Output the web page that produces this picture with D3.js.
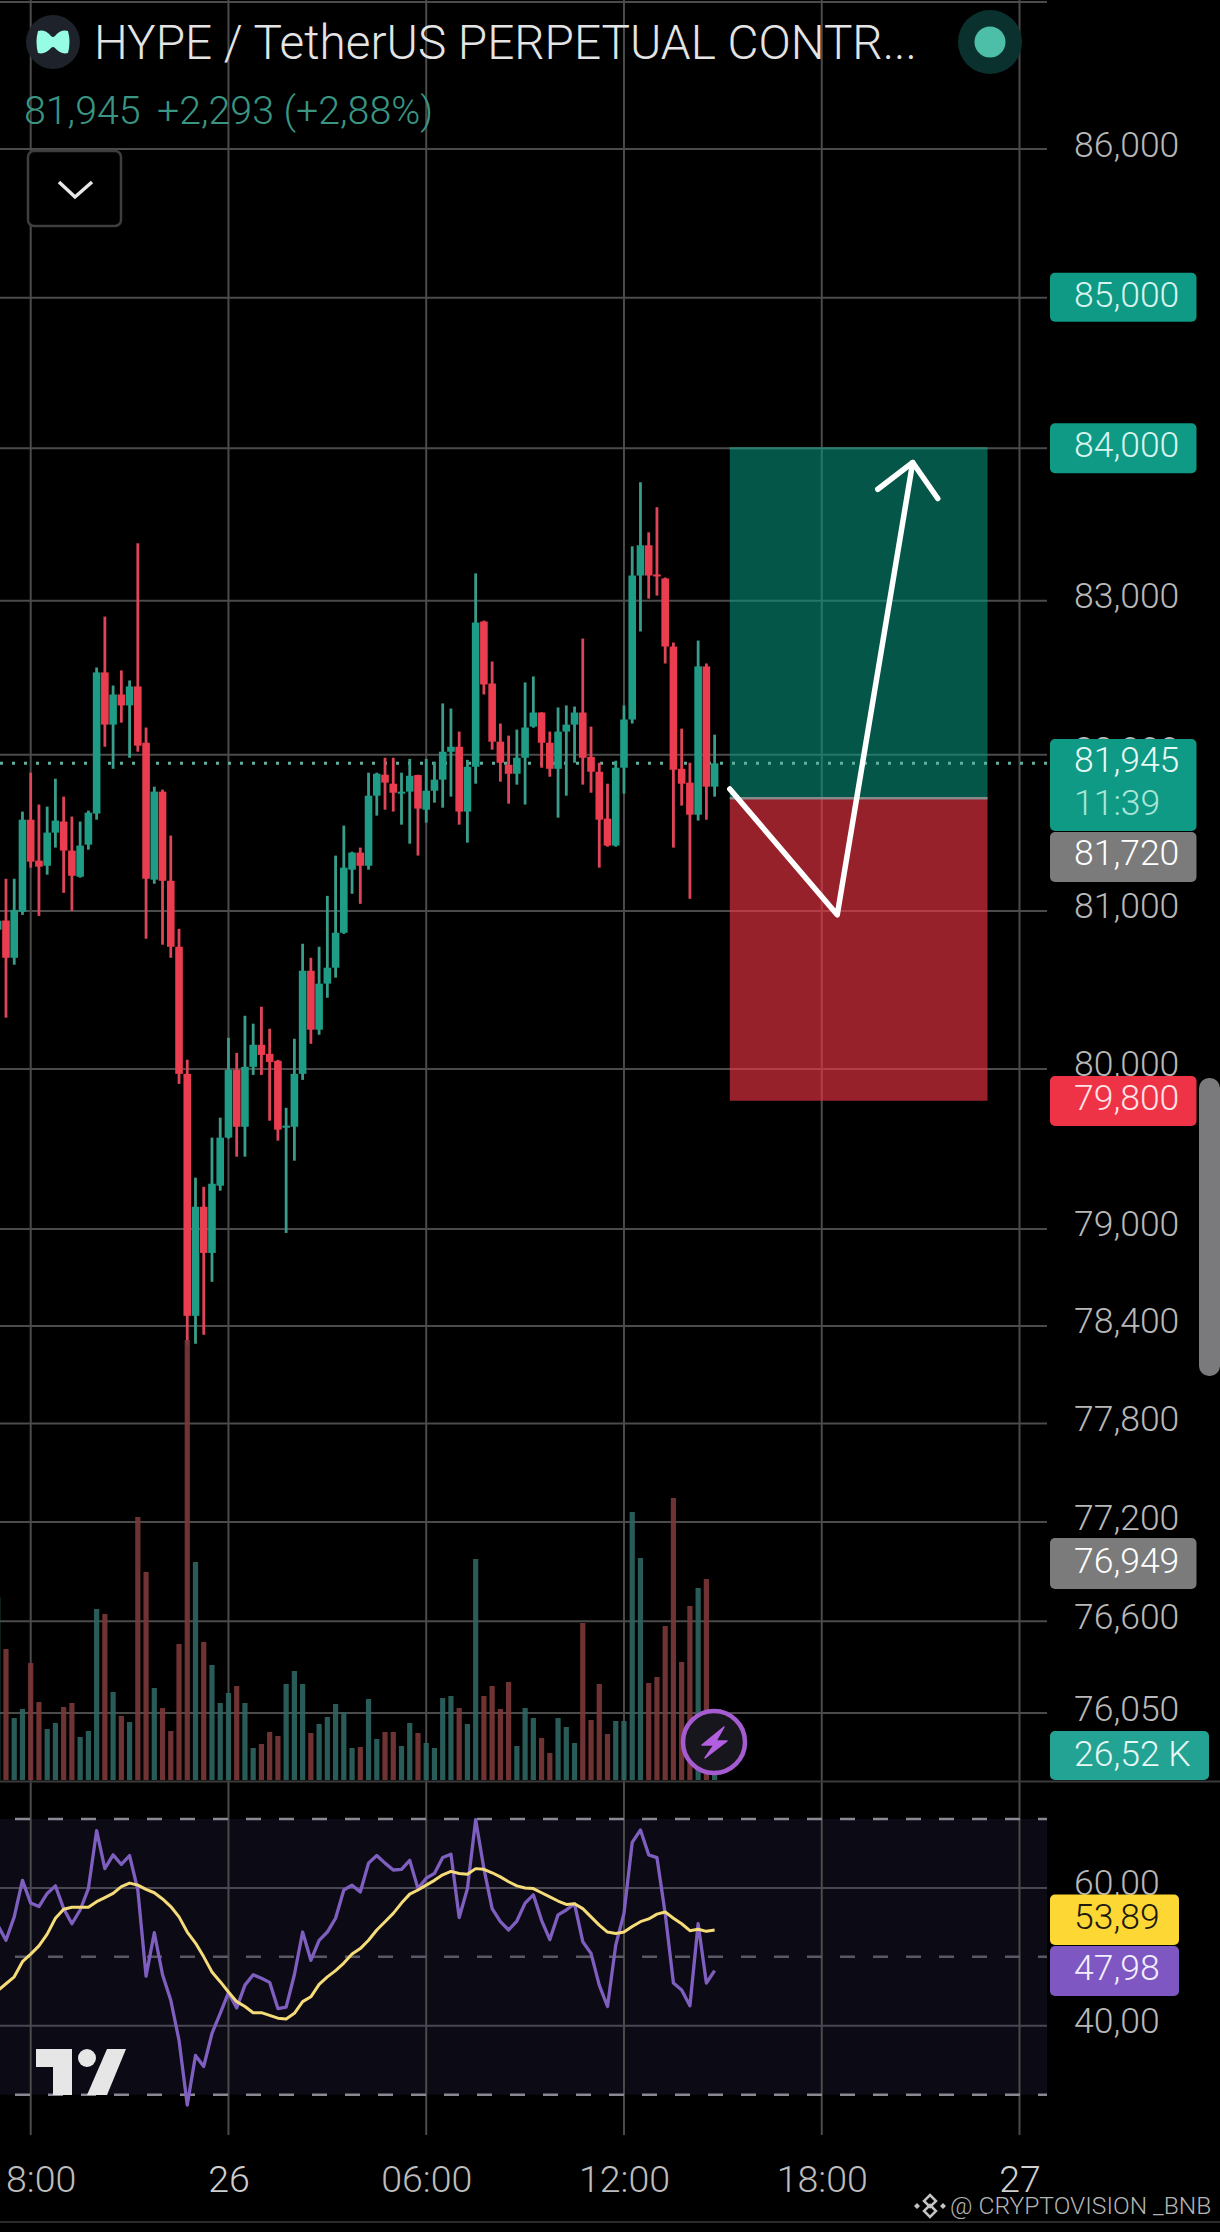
<!DOCTYPE html>
<html><head><meta charset="utf-8">
<script src="https://cdn.jsdelivr.net/npm/d3@7/dist/d3.min.js"></script>
<style>html,body{margin:0;padding:0;background:#000}svg{display:block}text{font-family:Roboto,sans-serif;font-weight:300}</style>
</head><body><svg id="c" width="1220" height="2232"></svg>
<script>
// 15-minute candles, first one at hour -7 relative to the 26th 00:00
const firstHour = -7, candleHours = 0.25;
const opens = [80880,80939,80702,80994,81583,81321,81288,81500,81571,81385,81218,81423,81622,82533,82195,82390,82319,82442,82078,81199,81763,81192,80772,79969,78462,79138,78851,79269,79569,79994,79637,80013,80152,80095,80051,79631,79637,79969,80620,80247,80538,80639,80861,81263,81372,81288,81737,81872,81814,81750,81763,81870,81647,81769,81840,82020,82052,81635,81923,82864,82461,82085,81936,81878,81981,82182,82273,82078,81910,82150,82195,82273,81987,81891,81590,81417,81917,82228,83164,83362,83171,83145,82701,81910,81821,81615,82572,81795];
const closes = [80937,80702,81006,81583,81314,81282,81500,81577,81385,81224,81417,81628,82533,82195,82390,82319,82442,82059,81205,81763,81192,80772,79969,78462,79138,78851,79281,79569,79994,79637,80013,80152,80088,80044,79619,79644,79969,80620,80247,80538,80639,80861,81276,81372,81288,81737,81878,81821,81756,81763,81865,81654,81769,81840,82020,82052,81635,81923,82857,82455,82085,81949,81878,81981,82176,82273,82078,81910,82150,82195,82273,81981,81891,81583,81417,81917,82228,83164,83362,83164,83158,82701,81904,81814,81615,82572,81795,81945];
const highs = [80975,81205,81205,81635,81885,81680,81667,81846,81731,81603,81571,81641,82565,82896,82448,82546,82481,83375,82176,81795,81776,81481,80886,80057,79319,79262,79569,79694,80196,80101,80335,80285,80392,80253,80057,79756,80190,80791,80702,80772,81096,81353,81545,81378,81404,81885,81885,81981,81981,81885,81974,81872,81974,81955,82332,82299,82150,81968,83178,82870,82604,82202,82124,82163,82468,82507,82275,82150,82306,82319,82312,82753,82182,81949,81814,81962,82319,83355,83776,83447,83612,83151,82727,82169,81949,82740,82591,82130];
const lows = [80848,80323,80658,80975,81276,80968,81231,81404,81115,81000,81212,81391,81583,82052,81910,82208,81981,82020,80823,81173,80785,80702,79906,78284,78290,78345,78672,79238,79563,79450,79450,79962,79962,79675,79550,78975,79425,79931,80158,80215,80449,80576,80854,81109,81045,81263,81609,81647,81635,81551,81429,81353,81564,81692,81660,81731,81551,81436,81814,82390,82033,81827,81686,81808,81680,82175,81917,81859,81596,81737,81949,81808,81756,81276,81410,81410,81750,82202,82799,83013,83033,82591,81404,81673,81077,81577,81583,81731];
const volumes = [183,131,62,71,117,78,51,57,73,77,43,49,171,166,88,64,58,263,208,92,72,49,136,440,218,138,115,77,87,94,77,32,36,48,44,96,109,96,47,56,63,76,68,32,33,81,41,48,48,34,57,47,37,32,82,84,72,56,221,84,94,71,98,34,72,62,42,27,62,53,37,157,60,96,46,59,59,268,222,97,103,154,282,118,174,192,201,26.52];
const rsi = [54.6,52.4,55.8,61.1,57.8,57.3,59.2,60.3,57.0,54.8,56.8,59.9,68.3,62.8,64.8,63.4,64.7,59.7,47.2,53.5,47.4,43.7,37.9,28.5,35.7,34.1,38.9,41.8,44.8,42.6,45.9,47.4,46.9,46.3,42.5,42.7,47.4,53.6,49.5,52.4,53.6,55.6,59.7,60.4,59.4,63.6,64.7,63.6,62.6,62.7,64.0,59.9,61.4,62.1,64.4,64.9,55.7,59.9,69.9,62.8,57.0,55.1,53.9,55.2,57.8,59.0,55.3,52.5,56.1,56.8,57.7,52.2,50.5,45.9,42.8,51.7,56.3,66.6,68.4,64.8,64.4,56.3,46.2,45.2,42.9,54.8,46.2,48.0];
const rsiMA = [45.1,46.1,47.1,49.3,50.4,51.6,53.3,55.6,56.9,57.2,57.2,57.2,58.0,58.6,59.2,60.2,60.7,60.4,59.8,59.3,58.4,57.3,55.8,53.6,52.0,50.0,47.8,46.4,44.9,43.5,42.8,41.9,41.9,41.5,41.1,41.0,41.8,43.5,44.2,46.0,47.1,48.0,49.1,50.4,51.2,52.4,53.9,55.1,56.3,57.8,59.1,59.7,60.4,61.1,61.9,62.4,62.1,62.0,62.8,62.7,62.2,61.6,60.9,60.3,60.0,59.9,59.3,58.7,58.1,57.6,57.7,57.0,55.8,54.6,53.6,53.4,53.6,54.4,55.1,55.5,56.2,56.5,55.6,54.8,53.8,54.0,53.7,53.9];
const priceGrid = [87000,86000,85000,84000,83000,82000,81000,80000,79000,78400,77800,77200,76600,76050];
const priceLabels = [86000,85000,84000,83000,82000,81000,80000,79000,78400,77800,77200,76600,76050];
const rsiGridSolid = [60,40], rsiGridDashed = [70,50,30], rsiLabels = [60,40];
const timeTicks = [-6,0,6,12,18,24], timeLabels = ["8:00","26","06:00","12:00","18:00","27"];
const lastPrice = 81945, entryPrice = 81720, targetPrice = 84000, stopPrice = 79800;
const positionHours = [15.21,23.03];
const arrowHours = [15.21,18.47,20.76], arrowPrices = [81780,80975,83906];
const arrowHeadHours = [19.70,20.76,21.52], arrowHeadPrices = [83730,83906,83669];

const green="#1f9c85", red="#ea3d50", gridCol="#4b4b4b";
const svg = d3.select("#c");
const idx = d3.range(opens.length);
const hourOf = i => firstHour + i*candleHours;

const x = d3.scaleLinear().domain([-6,24]).range([30.7,1019.5]);
const y = d3.scaleLog().domain([86000,76050]).range([149,1713]);
const vol = d3.scaleLinear().domain([0,440]).range([1780,1340]);
const yR = d3.scaleLinear().domain([70,30]).range([1819,2094.7]);
const plotR = 1047, labelFont = 35.5, labelX = 1074;

svg.append("rect").attr("width",1220).attr("height",2232).attr("fill","#000");
// RSI pane background
svg.append("rect").attr("x",0).attr("y",yR(70)).attr("width",plotR).attr("height",yR(30)-yR(70)).attr("fill","#0c0a14");
// vertical grid
svg.append("g").selectAll("line").data(timeTicks).join("line")
  .attr("x1",d=>x(d)).attr("x2",d=>x(d)).attr("y1",0).attr("y2",2135).attr("stroke",gridCol).attr("stroke-width",2);
// horizontal grid
svg.append("g").selectAll("line").data(priceGrid).join("line")
  .attr("x1",0).attr("x2",plotR).attr("y1",d=>y(d)).attr("y2",d=>y(d)).attr("stroke",gridCol).attr("stroke-width",2);
svg.append("g").selectAll("line").data(rsiGridSolid).join("line")
  .attr("x1",0).attr("x2",plotR).attr("y1",d=>yR(d)).attr("y2",d=>yR(d)).attr("stroke","#4a4754").attr("stroke-width",2);
svg.append("g").selectAll("line").data(rsiGridDashed).join("line")
  .attr("x1",0).attr("x2",plotR).attr("y1",d=>yR(d)).attr("y2",d=>yR(d))
  .attr("stroke",d=>d===50?"#5a5864":"#8b8894").attr("stroke-width",2.5).attr("stroke-dasharray","15 18").attr("stroke-dashoffset",18);
// pane separators
svg.append("line").attr("x1",0).attr("x2",1220).attr("y1",1781.5).attr("y2",1781.5).attr("stroke","#3a3a3a").attr("stroke-width",2);
svg.append("line").attr("x1",0).attr("x2",1220).attr("y1",2222).attr("y2",2222).attr("stroke","#2a2a2a").attr("stroke-width",2);

// position tool
svg.append("rect").attr("x",x(positionHours[0])).attr("width",x(positionHours[1])-x(positionHours[0]))
  .attr("y",y(targetPrice)).attr("height",y(entryPrice)-y(targetPrice)).attr("fill","#089981").attr("fill-opacity",.56);
svg.append("rect").attr("x",x(positionHours[0])).attr("width",x(positionHours[1])-x(positionHours[0]))
  .attr("y",y(entryPrice)).attr("height",y(stopPrice)-y(entryPrice)).attr("fill","#f23645").attr("fill-opacity",.62);
svg.append("line").attr("x1",x(positionHours[0])).attr("x2",x(positionHours[1])).attr("y1",y(entryPrice)).attr("y2",y(entryPrice)).attr("stroke","#8a8a8a").attr("stroke-width",2.5);
svg.append("line").attr("x1",x(positionHours[0])).attr("x2",x(positionHours[1])).attr("y1",y(targetPrice)).attr("y2",y(targetPrice)).attr("stroke","#2f7f70").attr("stroke-width",2);

// last price dotted line
svg.append("line").attr("x1",0).attr("x2",plotR).attr("y1",y(lastPrice)).attr("y2",y(lastPrice))
  .attr("stroke","#5fb0a0").attr("stroke-width",3).attr("stroke-dasharray","3 9");

// candles
const cG = svg.append("g");
cG.selectAll("line").data(idx).join("line")
  .attr("x1",i=>x(hourOf(i))).attr("x2",i=>x(hourOf(i))).attr("y1",i=>y(highs[i])).attr("y2",i=>y(lows[i]))
  .attr("stroke",i=>closes[i]>=opens[i]?"#3a9c8a":"#dc4658").attr("stroke-width",2.8);
cG.selectAll("rect").data(idx).join("rect")
  .attr("x",i=>x(hourOf(i))-3.8).attr("width",7.6)
  .attr("y",i=>y(Math.max(opens[i],closes[i])))
  .attr("height",i=>Math.max(1.5,y(Math.min(opens[i],closes[i]))-y(Math.max(opens[i],closes[i]))))
  .attr("fill",i=>closes[i]>=opens[i]?green:red);

// volume
svg.append("g").selectAll("rect").data(idx).join("rect")
  .attr("x",i=>x(hourOf(i))-2.6).attr("width",5.2)
  .attr("y",i=>vol(volumes[i])).attr("height",i=>vol(0)-vol(volumes[i]))
  .attr("fill",i=>closes[i]>=opens[i]?"rgb(45,100,95)":"rgb(122,55,55)").attr("fill-opacity",.92);

// RSI
const rsiLine = d3.line().x((d,i)=>x(hourOf(i))).y(d=>yR(d));
svg.append("path").attr("d",rsiLine(rsi)).attr("fill","none").attr("stroke","#7e5fc0").attr("stroke-width",3.3).attr("stroke-linejoin","round");
svg.append("path").attr("d",rsiLine(rsiMA)).attr("fill","none").attr("stroke","#f5dc78").attr("stroke-width",3).attr("stroke-linejoin","round");

// hand-drawn arrow
const arrow = d3.line().x(d=>x(d[0])).y(d=>y(d[1]));
svg.append("path").attr("d",arrow(d3.zip(arrowHours,arrowPrices))).attr("fill","none").attr("stroke","#fff").attr("stroke-width",5.5).attr("stroke-linecap","round").attr("stroke-linejoin","round");
svg.append("path").attr("d",arrow(d3.zip(arrowHeadHours,arrowHeadPrices))).attr("fill","none").attr("stroke","#fff").attr("stroke-width",5.5).attr("stroke-linecap","round").attr("stroke-linejoin","round");

// axes
const axisText = (g,fs,col)=>{g.select(".domain").remove();g.selectAll("line").remove();
  g.selectAll("text").attr("font-size",fs).attr("fill",col).attr("font-family","Roboto,sans-serif").attr("font-weight",300);};
const gP = svg.append("g").attr("transform",`translate(${labelX},0)`)
  .call(d3.axisRight(y).tickValues(priceLabels).tickSize(0).tickPadding(0).tickFormat(d3.format(",")));
axisText(gP,labelFont,"#b8b8b8"); gP.selectAll("text").attr("dy","7px");
const decimalComma = d3.formatLocale({decimal:",",thousands:".",grouping:[3],currency:["",""]});
const gR = svg.append("g").attr("transform",`translate(${labelX},0)`)
  .call(d3.axisRight(yR).tickValues(rsiLabels).tickSize(0).tickPadding(0).tickFormat(decimalComma.format(".2f")));
axisText(gR,labelFont,"#b8b8b8"); gR.selectAll("text").attr("dy","7px");
const gT = svg.append("g").attr("transform","translate(0,2192)")
  .call(d3.axisBottom(x).tickValues(timeTicks).tickSize(0).tickPadding(0).tickFormat((d,i)=>timeLabels[i]));
axisText(gT,37.5,"#bdbdbd"); gT.selectAll("text").attr("dy",0).attr("y",0)
  .attr("x",(d,i)=>i===0?10:0)
  .attr("font-weight",(d,i)=>timeLabels[i].length===2?500:300).attr("fill",(d,i)=>timeLabels[i].length===2?"#cfcfcf":"#bdbdbd");

// price badges
const badge=(y0,y1,w,fill,lines)=>{
  svg.append("rect").attr("x",1050).attr("y",y0).attr("width",w).attr("height",y1-y0).attr("rx",5).attr("fill",fill);
  lines.forEach(l=>svg.append("text").attr("x",labelX).attr("y",l.b).attr("font-size",labelFont).attr("fill",l.c).text(l.t));
};
const py=v=>y(v);
badge(py(85000)-25,py(85000)+24,146.5,"#0e9a84",[{t:"85,000",b:py(85000)+9,c:"#d9f3ee"}]);
badge(py(84000)-25,py(84000)+25,146.5,"#0e9a84",[{t:"84,000",b:py(84000)+9,c:"#d9f3ee"}]);
badge(739,831,146.5,"#0e9a84",[{t:d3.format(",")(lastPrice),b:772,c:"#e8f8f5"},{t:"11:39",b:815,c:"#a9e6d8"}]);
badge(832,882,146.5,"#7b7b7b",[{t:d3.format(",")(entryPrice),b:865,c:"#ffffff"}]);
badge(1076,1126,146.5,"#ef3347",[{t:d3.format(",")(stopPrice),b:1110,c:"#ffe3e6"}]);
badge(1538,1589,146.5,"#7b7b7b",[{t:"76,949",b:1573,c:"#ffffff"}]);
badge(1731,1780,159,"#22a394",[{t:"26,52 K",b:1766,c:"#e8f8f5"}]);
badge(1894.5,1945,129,"#fdd835",[{t:"53,89",b:1929,c:"#1d1a10"}]);
badge(1946,1996,129,"#7e57c2",[{t:"47,98",b:1980,c:"#f3eefc"}]);

// scrollbar
svg.append("rect").attr("x",1199).attr("y",1078).attr("width",21).attr("height",298).attr("rx",10).attr("fill","#7a7a7c");

// header
svg.append("circle").attr("cx",53).attr("cy",42).attr("r",27).attr("fill","#1e222a");
svg.append("path").attr("d","M38 31 Q45 29 51 36 Q53 38 55 36 Q61 29 68 31 Q71 42 68 53 Q61 55 55 48 Q53 46 51 48 Q45 55 38 53 Q35 42 38 31Z").attr("fill","#97fce4");
svg.append("text").attr("x",94).attr("y",59).attr("font-size",47.7).attr("fill","#e4e4e4").text("HYPE / TetherUS PERPETUAL CONTR...");
svg.append("circle").attr("cx",990).attr("cy",42).attr("r",32).attr("fill","#0a312d");
svg.append("circle").attr("cx",990).attr("cy",42).attr("r",15.5).attr("fill","#4dbfa8");
svg.append("text").attr("x",24).attr("y",124).attr("font-size",39.3).attr("fill","#3a9583").text("81,945");
svg.append("text").attr("x",157).attr("y",124).attr("font-size",39.3).attr("fill","#3a9583").text("+2,293 (+2,88%)");
svg.append("rect").attr("x",28).attr("y",151).attr("width",93).attr("height",75).attr("rx",6).attr("fill","#000").attr("stroke","#3e3e3e").attr("stroke-width",2.5);
svg.append("path").attr("d","M59 182 L75 197 L92 182").attr("fill","none").attr("stroke","#e8e8e8").attr("stroke-width",3.5);

// lightning button
svg.append("circle").attr("cx",714).attr("cy",1742).attr("r",31).attr("fill","#17161c").attr("stroke","#a55cd0").attr("stroke-width",4.5);
svg.append("path").attr("d","M724 1727 L702 1745 L714 1745 L705 1758 L727 1741 L716 1741Z").attr("fill","#b25fe0").attr("stroke","#b25fe0").attr("stroke-width",1.5).attr("stroke-linejoin","round");

// TradingView mark
svg.append("path").attr("d","M36 2049 H72 V2095 H53 V2067 H36Z").attr("fill","#e6e6e6");
svg.append("circle").attr("cx",87).attr("cy",2058).attr("r",9).attr("fill","#e6e6e6");
svg.append("path").attr("d","M107 2049 H126 L107 2095 H87Z").attr("fill","#e6e6e6");

// watermark
svg.append("path").attr("d","M930 2195 L936 2201 L930 2207 L924 2201Z M930 2205 L936 2211 L930 2217 L924 2211Z").attr("fill","none").attr("stroke","#c4c4c4").attr("stroke-width",2.5);
svg.append("path").attr("d","M917 2203 l3 3 l-3 3 l-3 -3Z M943 2203 l3 3 l-3 3 l-3 -3Z").attr("fill","#c4c4c4");
svg.append("text").attr("x",950).attr("y",2214).attr("font-size",24.6).attr("fill","#b4b4b4").attr("font-weight",400).text("@ CRYPTOVISION _BNB");
</script></body></html>
